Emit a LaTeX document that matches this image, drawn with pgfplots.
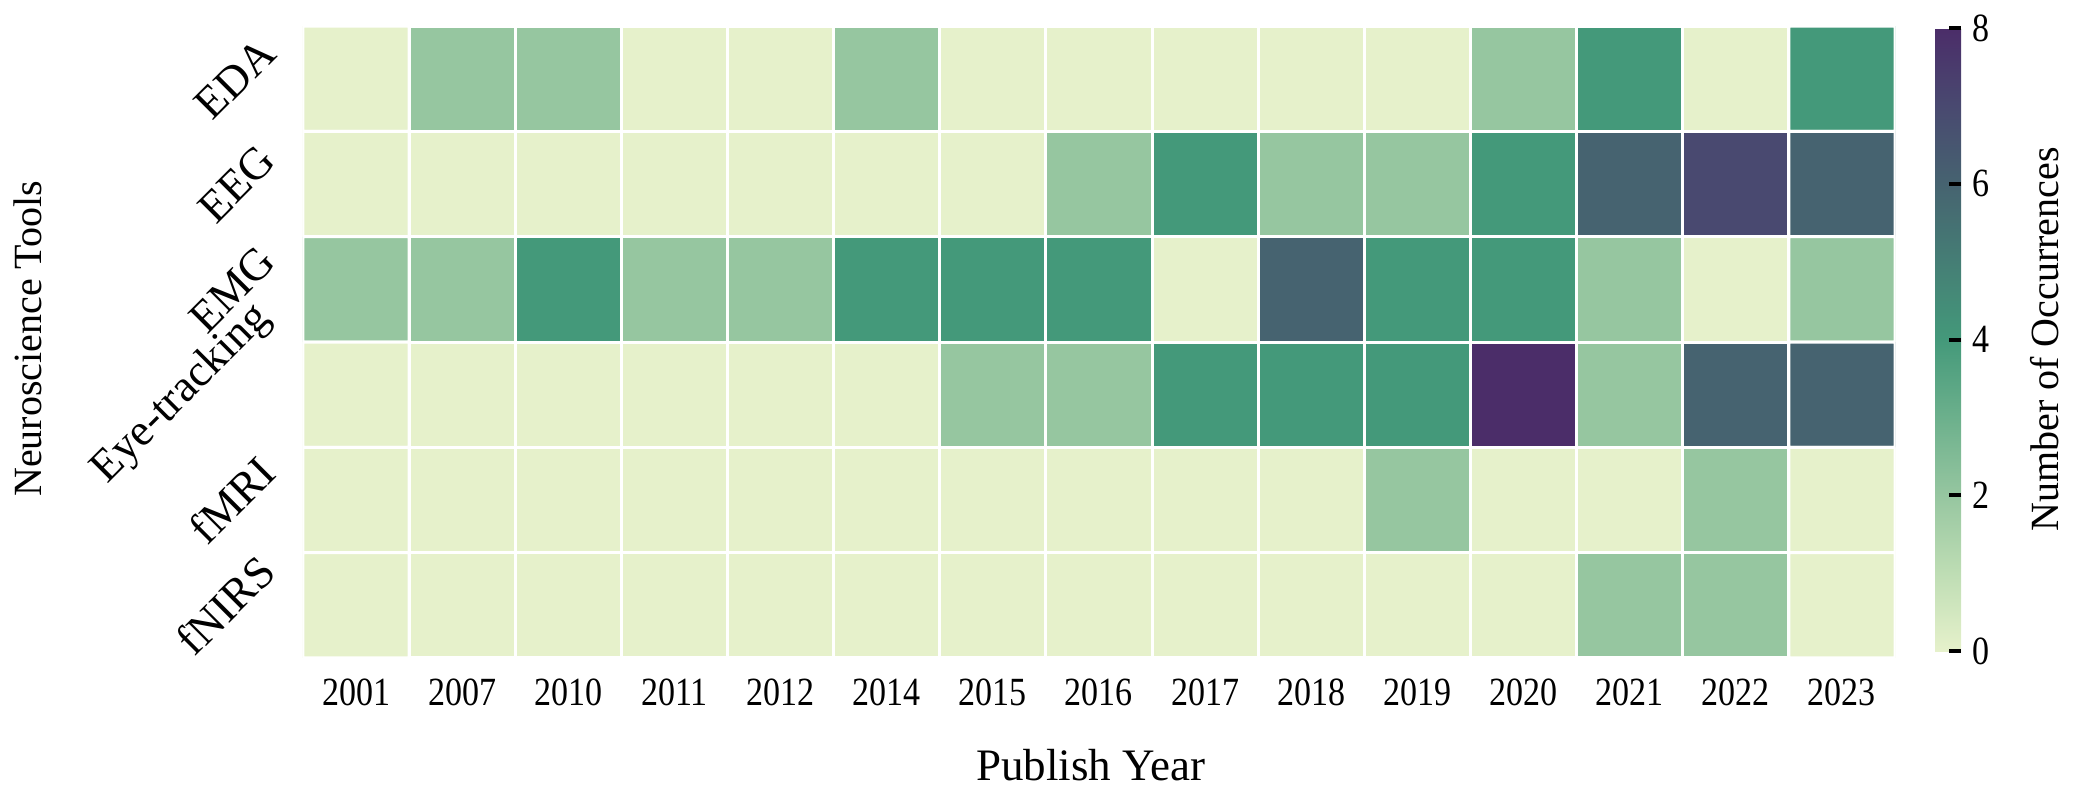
\documentclass[border=0pt]{standalone}
\usepackage{fontspec}
\setmainfont{Liberation Serif}
\newfontfamily\tickfont{Liberation Serif}[FakeStretch=0.85]
\usepackage{pgfplots}
\usepackage{pgfplotstable}
\pgfplotsset{compat=1.18}

% rows: 0=EDA 1=EEG 2=EMG 3=Eye-tracking 4=fMRI 5=fNIRS ; cols 0..14 = years
\pgfplotstableread{
x y c
0 0 0
1 0 2
2 0 2
3 0 0
4 0 0
5 0 2
6 0 0
7 0 0
8 0 0
9 0 0
10 0 0
11 0 2
12 0 4
13 0 0
14 0 4
0 1 0
1 1 0
2 1 0
3 1 0
4 1 0
5 1 0
6 1 0
7 1 2
8 1 4
9 1 2
10 1 2
11 1 4
12 1 6
13 1 7
14 1 6
0 2 2
1 2 2
2 2 4
3 2 2
4 2 2
5 2 4
6 2 4
7 2 4
8 2 0
9 2 6
10 2 4
11 2 4
12 2 2
13 2 0
14 2 2
0 3 0
1 3 0
2 3 0
3 3 0
4 3 0
5 3 0
6 3 2
7 3 2
8 3 4
9 3 4
10 3 4
11 3 8
12 3 2
13 3 6
14 3 6
0 4 0
1 4 0
2 4 0
3 4 0
4 4 0
5 4 0
6 4 0
7 4 0
8 4 0
9 4 0
10 4 2
11 4 0
12 4 0
13 4 2
14 4 0
0 5 0
1 5 0
2 5 0
3 5 0
4 5 0
5 5 0
6 5 0
7 5 0
8 5 0
9 5 0
10 5 0
11 5 0
12 5 2
13 5 2
14 5 0
}\heatdata

\begin{document}
\begin{tikzpicture}
\begin{axis}[
  scale only axis, width=398pt, height=158pt,
  xmin=-0.5, xmax=14.5, ymin=-0.5, ymax=5.5, y dir=reverse,
  axis line style={draw=none}, major tick length=0pt,
  /pgf/number format/assume math mode=true,
  xtick={0,...,14},
  xticklabels={2001,2007,2010,2011,2012,2014,2015,2016,2017,2018,2019,2020,2021,2022,2023},
  ytick={0,...,5},
  yticklabels={\rotatebox{45}{EDA},\rotatebox{45}{EEG},\rotatebox{45}{EMG},\rotatebox{45}{Eye-tracking},\rotatebox{45}{fMRI},\rotatebox{45}{fNIRS}},
  xticklabel style={font=\tickfont\fontsize{10}{12}\selectfont, inner sep=0pt, anchor=north, yshift=-5pt},
  yticklabel style={font=\fontsize{11.25}{13}\selectfont, inner sep=0pt, anchor=east, xshift=-6pt},
  xlabel={Publish Year},
  xlabel style={at={(axis description cs:0.495,-0.169)}, anchor=center, font=\fontsize{11.25}{13}\selectfont},
  ylabel={Neuroscience Tools},
  ylabel style={at={(axis description cs:-0.1727,0.505)}, anchor=center, font=\fontsize{10}{12}\selectfont},
  colormap={heat}{rgb255(0cm)=(230,241,203); rgb255(1cm)=(190,221,180); rgb255(2cm)=(150,198,160); rgb255(3cm)=(108,176,140); rgb255(4cm)=(68,153,122); rgb255(5cm)=(69,126,117); rgb255(6cm)=(70,99,112); rgb255(7cm)=(73,73,112); rgb255(8cm)=(75,45,105)},
  point meta min=0, point meta max=8,
  colorbar right,
  colorbar shift/.style={xshift=10pt, yshift=-0.5pt},
  colorbar style={
    at={(parent axis.north east)}, anchor=north west,
    scale only axis, width=6.5pt, height=155.75pt,
    ytick={0,2,4,6,8}, yticklabel pos=right, ytick pos=right,
    tick align=inside, major tick length=3pt,
    every tick/.style={black, line width=1pt},
    axis line style={draw=none},
    /pgf/number format/assume math mode=true,
    yticklabel style={font=\tickfont\fontsize{10}{12}\selectfont, inner sep=0pt, anchor=west, xshift=2.75pt},
    ylabel={Number of Occurrences},
    ylabel style={at={(axis description cs:4.2,0.5)}, anchor=center, font=\fontsize{10}{12}\selectfont},
  },
]
\addplot[matrix plot*, mesh/cols=15, point meta=explicit, draw=white, line width=0.75pt]
  table[x=x, y=y, meta=c] {\heatdata};
\end{axis}
\pgfresetboundingbox
\path[use as bounding box] (-75.75pt,-35.5pt) rectangle (444pt,164.5pt);
\end{tikzpicture}
\end{document}
